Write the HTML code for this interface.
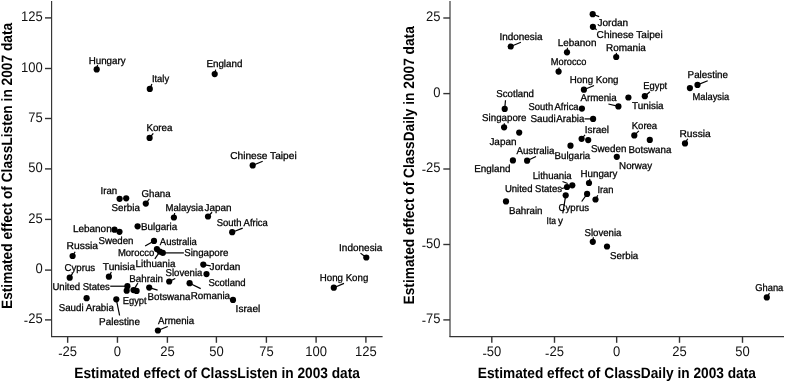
<!DOCTYPE html>
<html><head><meta charset="utf-8"><style>
html,body{margin:0;padding:0;background:#fff;}
svg{display:block;}
text{text-rendering:geometricPrecision;}
.lab text{font-family:"Liberation Sans",Arial,sans-serif;font-size:10px;fill:#000;stroke:#000;stroke-width:0.28px;}
.tk text{font-family:"Liberation Sans",Arial,sans-serif;font-size:14px;fill:#111;}
.ttl text{font-family:"Liberation Sans",Arial,sans-serif;font-size:15px;font-weight:bold;fill:#000;}
</style></head><body>
<svg width="785" height="382" viewBox="0 0 785 382">
<rect width="785" height="382" fill="#fff"/>
<g class="lab">
<line x1="51.6" y1="1" x2="51.6" y2="337" stroke="#333" stroke-width="1.15"/>
<line x1="51" y1="336.6" x2="382.6" y2="336.6" stroke="#333" stroke-width="1.15"/>
<line x1="45" y1="17.9" x2="51.6" y2="17.9" stroke="#333" stroke-width="1.4"/>
<line x1="45" y1="68.5" x2="51.6" y2="68.5" stroke="#333" stroke-width="1.4"/>
<line x1="45" y1="118.5" x2="51.6" y2="118.5" stroke="#333" stroke-width="1.4"/>
<line x1="45" y1="168.9" x2="51.6" y2="168.9" stroke="#333" stroke-width="1.4"/>
<line x1="45" y1="219.4" x2="51.6" y2="219.4" stroke="#333" stroke-width="1.4"/>
<line x1="45" y1="270.1" x2="51.6" y2="270.1" stroke="#333" stroke-width="1.4"/>
<line x1="45" y1="319.9" x2="51.6" y2="319.9" stroke="#333" stroke-width="1.4"/>
<line x1="67.65" y1="336.6" x2="67.65" y2="342.8" stroke="#333" stroke-width="1.4"/>
<line x1="117.45" y1="336.6" x2="117.45" y2="342.8" stroke="#333" stroke-width="1.4"/>
<line x1="167.4" y1="336.6" x2="167.4" y2="342.8" stroke="#333" stroke-width="1.4"/>
<line x1="216.4" y1="336.6" x2="216.4" y2="342.8" stroke="#333" stroke-width="1.4"/>
<line x1="266.4" y1="336.6" x2="266.4" y2="342.8" stroke="#333" stroke-width="1.4"/>
<line x1="316.1" y1="336.6" x2="316.1" y2="342.8" stroke="#333" stroke-width="1.4"/>
<line x1="365.9" y1="336.6" x2="365.9" y2="342.8" stroke="#333" stroke-width="1.4"/>
<line x1="450.0" y1="1" x2="450.0" y2="337" stroke="#333" stroke-width="1.15"/>
<line x1="449.5" y1="336.6" x2="784" y2="336.6" stroke="#333" stroke-width="1.15"/>
<line x1="443.3" y1="18.0" x2="450" y2="18.0" stroke="#333" stroke-width="1.4"/>
<line x1="443.3" y1="93.6" x2="450" y2="93.6" stroke="#333" stroke-width="1.4"/>
<line x1="443.3" y1="169.0" x2="450" y2="169.0" stroke="#333" stroke-width="1.4"/>
<line x1="443.3" y1="244.5" x2="450" y2="244.5" stroke="#333" stroke-width="1.4"/>
<line x1="443.3" y1="319.9" x2="450" y2="319.9" stroke="#333" stroke-width="1.4"/>
<line x1="491.8" y1="336.6" x2="491.8" y2="342.8" stroke="#333" stroke-width="1.4"/>
<line x1="554.5" y1="336.6" x2="554.5" y2="342.8" stroke="#333" stroke-width="1.4"/>
<line x1="616.66" y1="336.6" x2="616.66" y2="342.8" stroke="#333" stroke-width="1.4"/>
<line x1="679.5" y1="336.6" x2="679.5" y2="342.8" stroke="#333" stroke-width="1.4"/>
<line x1="742.5" y1="336.6" x2="742.5" y2="342.8" stroke="#333" stroke-width="1.4"/>
<line x1="96.7" y1="69.4" x2="97.55" y2="64.91" stroke="#000" stroke-width="1.2"/>
<line x1="149.8" y1="88.9" x2="151.92" y2="83.96" stroke="#000" stroke-width="1.2"/>
<line x1="214.7" y1="74.1" x2="215.66" y2="69.52" stroke="#000" stroke-width="1.2"/>
<line x1="149.6" y1="137.9" x2="153.3" y2="133.28" stroke="#000" stroke-width="1.2"/>
<line x1="252.7" y1="165.4" x2="262.7" y2="161.3" stroke="#000" stroke-width="1.2"/>
<line x1="145.8" y1="203.6" x2="149.38" y2="198.76" stroke="#000" stroke-width="1.2"/>
<line x1="173.9" y1="217.5" x2="174.63" y2="213.01" stroke="#000" stroke-width="1.2"/>
<line x1="208.0" y1="216.5" x2="212.05" y2="212.22" stroke="#000" stroke-width="1.2"/>
<line x1="232.2" y1="232.2" x2="242.7" y2="228.1" stroke="#000" stroke-width="1.2"/>
<line x1="366.3" y1="257.5" x2="360.46" y2="253.12" stroke="#000" stroke-width="1.2"/>
<line x1="333.8" y1="287.7" x2="344.0" y2="283.4" stroke="#000" stroke-width="1.2"/>
<line x1="72.6" y1="256.0" x2="75.11" y2="251.81" stroke="#000" stroke-width="1.2"/>
<line x1="154.0" y1="240.9" x2="145.1" y2="246.0" stroke="#000" stroke-width="1.2"/>
<line x1="162.8" y1="252.9" x2="183.9" y2="252.9" stroke="#000" stroke-width="1.2"/>
<line x1="159.8" y1="251.6" x2="154.85" y2="258.86" stroke="#000" stroke-width="1.2"/>
<line x1="69.7" y1="277.7" x2="72.74" y2="273.13" stroke="#000" stroke-width="1.2"/>
<line x1="108.9" y1="276.7" x2="111.37" y2="271.99" stroke="#000" stroke-width="1.2"/>
<line x1="127.4" y1="286.2" x2="110.2" y2="286.2" stroke="#000" stroke-width="1.2"/>
<line x1="133.5" y1="290.1" x2="137.82" y2="283.12" stroke="#000" stroke-width="1.2"/>
<line x1="149.2" y1="287.6" x2="157.6" y2="290.1" stroke="#000" stroke-width="1.2"/>
<line x1="116.3" y1="299.3" x2="119.6" y2="315.5" stroke="#000" stroke-width="1.2"/>
<line x1="169.2" y1="281.5" x2="175.21" y2="278.44" stroke="#000" stroke-width="1.2"/>
<line x1="189.6" y1="283.2" x2="200.7" y2="288.6" stroke="#000" stroke-width="1.2"/>
<line x1="203.3" y1="264.6" x2="210.69" y2="265.94" stroke="#000" stroke-width="1.2"/>
<line x1="157.9" y1="330.5" x2="167.7" y2="326.5" stroke="#000" stroke-width="1.2"/>
<circle cx="96.7" cy="69.4" r="3.1"/>
<circle cx="149.8" cy="88.9" r="3.1"/>
<circle cx="214.7" cy="74.1" r="3.1"/>
<circle cx="149.6" cy="137.9" r="3.1"/>
<circle cx="252.7" cy="165.4" r="3.1"/>
<circle cx="119.6" cy="198.8" r="3.1"/>
<circle cx="126.2" cy="198.3" r="3.1"/>
<circle cx="145.8" cy="203.6" r="3.1"/>
<circle cx="173.9" cy="217.5" r="3.1"/>
<circle cx="208.0" cy="216.5" r="3.1"/>
<circle cx="232.2" cy="232.2" r="3.1"/>
<circle cx="366.3" cy="257.5" r="3.1"/>
<circle cx="333.8" cy="287.7" r="3.1"/>
<circle cx="114.5" cy="229.7" r="3.1"/>
<circle cx="119.5" cy="231.8" r="3.1"/>
<circle cx="137.6" cy="226.3" r="3.1"/>
<circle cx="72.6" cy="256.0" r="3.1"/>
<circle cx="154.0" cy="240.9" r="3.1"/>
<circle cx="156.9" cy="249.1" r="3.1"/>
<circle cx="162.8" cy="252.9" r="3.1"/>
<circle cx="159.8" cy="251.6" r="3.1"/>
<circle cx="69.7" cy="277.7" r="3.1"/>
<circle cx="108.9" cy="276.7" r="3.1"/>
<circle cx="127.4" cy="286.2" r="3.1"/>
<circle cx="126.7" cy="290.7" r="3.1"/>
<circle cx="133.5" cy="290.1" r="3.1"/>
<circle cx="136.6" cy="290.9" r="3.1"/>
<circle cx="149.2" cy="287.6" r="3.1"/>
<circle cx="86.6" cy="298.2" r="3.1"/>
<circle cx="116.3" cy="299.3" r="3.1"/>
<circle cx="169.2" cy="281.5" r="3.1"/>
<circle cx="189.6" cy="283.2" r="3.1"/>
<circle cx="203.3" cy="264.6" r="3.1"/>
<circle cx="206.5" cy="274.1" r="3.1"/>
<circle cx="233.0" cy="299.9" r="3.1"/>
<circle cx="157.9" cy="330.5" r="3.1"/>
<text x="88.7" y="63.5" textLength="36.9" lengthAdjust="spacingAndGlyphs">Hungary</text>
<text x="151.9" y="82.0" textLength="17.2" lengthAdjust="spacingAndGlyphs">Italy</text>
<text x="206.4" y="67.4" textLength="36.0" lengthAdjust="spacingAndGlyphs">England</text>
<text x="146.4" y="131.1" textLength="26.0" lengthAdjust="spacingAndGlyphs">Korea</text>
<text x="230.2" y="158.7" textLength="66.5" lengthAdjust="spacingAndGlyphs">Chinese Taipei</text>
<text x="100.6" y="194.1" textLength="16.6" lengthAdjust="spacingAndGlyphs">Iran</text>
<text x="111.6" y="210.6" textLength="28.3" lengthAdjust="spacingAndGlyphs">Serbia</text>
<text x="141.6" y="196.8" textLength="29.0" lengthAdjust="spacingAndGlyphs">Ghana</text>
<text x="165.6" y="210.7" textLength="37.7" lengthAdjust="spacingAndGlyphs">Malaysia</text>
<text x="204.5" y="210.7" textLength="27.1" lengthAdjust="spacingAndGlyphs">Japan</text>
<text x="216.7" y="225.7" textLength="51.1" lengthAdjust="spacingAndGlyphs">South Africa</text>
<text x="339.1" y="251.0" textLength="43.3" lengthAdjust="spacingAndGlyphs">Indonesia</text>
<text x="319.8" y="281.4" textLength="48.5" lengthAdjust="spacingAndGlyphs">Hong Kong</text>
<text x="72.9" y="231.5" textLength="38.8" lengthAdjust="spacingAndGlyphs">Lebanon</text>
<text x="98.5" y="243.8" textLength="35.0" lengthAdjust="spacingAndGlyphs">Sweden</text>
<text x="141.0" y="229.9" textLength="36.2" lengthAdjust="spacingAndGlyphs">Bulgaria</text>
<text x="66.6" y="249.3" textLength="31.5" lengthAdjust="spacingAndGlyphs">Russia</text>
<text x="159.8" y="244.6" textLength="37.0" lengthAdjust="spacingAndGlyphs">Australia</text>
<text x="117.9" y="255.6" textLength="36.5" lengthAdjust="spacingAndGlyphs">Morocco</text>
<text x="184.2" y="256.3" textLength="44.2" lengthAdjust="spacingAndGlyphs">Singapore</text>
<text x="135.6" y="267.3" textLength="39.8" lengthAdjust="spacingAndGlyphs">Lithuania</text>
<text x="64.4" y="271.2" textLength="30.8" lengthAdjust="spacingAndGlyphs">Cyprus</text>
<text x="102.8" y="269.8" textLength="32.5" lengthAdjust="spacingAndGlyphs">Tunisia</text>
<text x="52.4" y="289.7" textLength="57.5" lengthAdjust="spacingAndGlyphs">United States</text>
<text x="122.7" y="303.5" textLength="24.0" lengthAdjust="spacingAndGlyphs">Egypt</text>
<text x="129.3" y="281.5" textLength="33.7" lengthAdjust="spacingAndGlyphs">Bahrain</text>
<text x="147.5" y="299.6" textLength="42.9" lengthAdjust="spacingAndGlyphs">Botswana</text>
<text x="58.7" y="310.6" textLength="55.1" lengthAdjust="spacingAndGlyphs">Saudi Arabia</text>
<text x="99.1" y="324.5" textLength="40.8" lengthAdjust="spacingAndGlyphs">Palestine</text>
<text x="165.6" y="276.0" textLength="36.8" lengthAdjust="spacingAndGlyphs">Slovenia</text>
<text x="190.7" y="298.5" textLength="39.4" lengthAdjust="spacingAndGlyphs">Romania</text>
<text x="209.6" y="270.0" textLength="30.8" lengthAdjust="spacingAndGlyphs">Jordan</text>
<text x="208.4" y="285.7" textLength="37.2" lengthAdjust="spacingAndGlyphs">Scotland</text>
<text x="235.6" y="311.6" textLength="24.7" lengthAdjust="spacingAndGlyphs">Israel</text>
<text x="158.0" y="323.6" textLength="36.2" lengthAdjust="spacingAndGlyphs">Armenia</text>
<line x1="592.7" y1="14.2" x2="599.15" y2="16.58" stroke="#000" stroke-width="1.2"/>
<line x1="592.9" y1="26.8" x2="596.62" y2="29.8" stroke="#000" stroke-width="1.2"/>
<line x1="510.7" y1="46.5" x2="520.9" y2="42.3" stroke="#000" stroke-width="1.2"/>
<line x1="567.0" y1="52.3" x2="567.49" y2="47.8" stroke="#000" stroke-width="1.2"/>
<line x1="616.2" y1="57.0" x2="616.45" y2="52.9" stroke="#000" stroke-width="1.2"/>
<line x1="558.6" y1="71.6" x2="559.1" y2="67.51" stroke="#000" stroke-width="1.2"/>
<line x1="583.9" y1="89.7" x2="594.0" y2="85.5" stroke="#000" stroke-width="1.2"/>
<line x1="618.4" y1="106.4" x2="608.4" y2="104.0" stroke="#000" stroke-width="1.2"/>
<line x1="644.8" y1="96.2" x2="649.9" y2="91.78" stroke="#000" stroke-width="1.2"/>
<line x1="697.5" y1="84.9" x2="707.7" y2="80.7" stroke="#000" stroke-width="1.2"/>
<line x1="504.7" y1="108.9" x2="505.5" y2="100.2" stroke="#000" stroke-width="1.2"/>
<line x1="593.1" y1="118.9" x2="584.6" y2="118.9" stroke="#000" stroke-width="1.2"/>
<line x1="504.1" y1="127.3" x2="504.35" y2="123.3" stroke="#000" stroke-width="1.2"/>
<line x1="581.6" y1="138.8" x2="585.03" y2="134.9" stroke="#000" stroke-width="1.2"/>
<line x1="634.3" y1="135.4" x2="638.87" y2="130.94" stroke="#000" stroke-width="1.2"/>
<line x1="685.0" y1="143.4" x2="687.71" y2="138.81" stroke="#000" stroke-width="1.2"/>
<line x1="527.1" y1="160.7" x2="536.0" y2="156.5" stroke="#000" stroke-width="1.2"/>
<line x1="567.0" y1="187.0" x2="561.23" y2="188.73" stroke="#000" stroke-width="1.2"/>
<line x1="589.0" y1="183.0" x2="589.87" y2="178.92" stroke="#000" stroke-width="1.2"/>
<line x1="595.5" y1="199.5" x2="597.78" y2="195.3" stroke="#000" stroke-width="1.2"/>
<line x1="587.1" y1="193.9" x2="581.7" y2="201.5" stroke="#000" stroke-width="1.2"/>
<line x1="565.7" y1="195.3" x2="562.8" y2="213.3" stroke="#000" stroke-width="1.2"/>
<line x1="592.8" y1="241.8" x2="593.4" y2="237.21" stroke="#000" stroke-width="1.2"/>
<line x1="766.8" y1="297.4" x2="769.53" y2="293.13" stroke="#000" stroke-width="1.2"/>
<circle cx="592.7" cy="14.2" r="3.1"/>
<circle cx="592.9" cy="26.8" r="3.1"/>
<circle cx="510.7" cy="46.5" r="3.1"/>
<circle cx="567.0" cy="52.3" r="3.1"/>
<circle cx="616.2" cy="57.0" r="3.1"/>
<circle cx="558.6" cy="71.6" r="3.1"/>
<circle cx="583.9" cy="89.7" r="3.1"/>
<circle cx="618.4" cy="106.4" r="3.1"/>
<circle cx="628.4" cy="97.5" r="3.1"/>
<circle cx="644.8" cy="96.2" r="3.1"/>
<circle cx="697.5" cy="84.9" r="3.1"/>
<circle cx="689.9" cy="88.1" r="3.1"/>
<circle cx="504.7" cy="108.9" r="3.1"/>
<circle cx="581.9" cy="108.6" r="3.1"/>
<circle cx="593.1" cy="118.9" r="3.1"/>
<circle cx="504.1" cy="127.3" r="3.1"/>
<circle cx="581.6" cy="138.8" r="3.1"/>
<circle cx="588.2" cy="140.1" r="3.1"/>
<circle cx="519.2" cy="132.6" r="3.1"/>
<circle cx="634.3" cy="135.4" r="3.1"/>
<circle cx="649.8" cy="139.9" r="3.1"/>
<circle cx="685.0" cy="143.4" r="3.1"/>
<circle cx="527.1" cy="160.7" r="3.1"/>
<circle cx="512.9" cy="160.4" r="3.1"/>
<circle cx="570.5" cy="145.7" r="3.1"/>
<circle cx="616.8" cy="156.8" r="3.1"/>
<circle cx="572.3" cy="185.3" r="3.1"/>
<circle cx="567.0" cy="187.0" r="3.1"/>
<circle cx="589.0" cy="183.0" r="3.1"/>
<circle cx="595.5" cy="199.5" r="3.1"/>
<circle cx="587.1" cy="193.9" r="3.1"/>
<circle cx="565.7" cy="195.3" r="3.1"/>
<circle cx="506.0" cy="201.4" r="3.1"/>
<circle cx="592.8" cy="241.8" r="3.1"/>
<circle cx="607.0" cy="246.5" r="3.1"/>
<circle cx="766.8" cy="297.4" r="3.1"/>
<text x="597.5" y="25.9" textLength="30.6" lengthAdjust="spacingAndGlyphs">Jordan</text>
<text x="596.6" y="37.8" textLength="66.1" lengthAdjust="spacingAndGlyphs">Chinese Taipei</text>
<text x="499.4" y="39.7" textLength="43.1" lengthAdjust="spacingAndGlyphs">Indonesia</text>
<text x="557.8" y="46.0" textLength="38.6" lengthAdjust="spacingAndGlyphs">Lebanon</text>
<text x="606.0" y="50.9" textLength="39.9" lengthAdjust="spacingAndGlyphs">Romania</text>
<text x="550.8" y="64.8" textLength="35.5" lengthAdjust="spacingAndGlyphs">Morocco</text>
<text x="569.8" y="82.8" textLength="48.7" lengthAdjust="spacingAndGlyphs">Hong Kong</text>
<text x="580.4" y="101.4" textLength="36.3" lengthAdjust="spacingAndGlyphs">Armenia</text>
<text x="632.1" y="109.0" textLength="31.5" lengthAdjust="spacingAndGlyphs">Tunisia</text>
<text x="643.3" y="89.1" textLength="23.9" lengthAdjust="spacingAndGlyphs">Egypt</text>
<text x="687.6" y="78.1" textLength="40.4" lengthAdjust="spacingAndGlyphs">Palestine</text>
<text x="692.4" y="99.9" textLength="36.9" lengthAdjust="spacingAndGlyphs">Malaysia</text>
<text x="496.3" y="97.0" textLength="37.6" lengthAdjust="spacingAndGlyphs">Scotland</text>
<text x="482.1" y="120.8" textLength="44.4" lengthAdjust="spacingAndGlyphs">Singapore</text>
<text x="584.7" y="132.6" textLength="24.4" lengthAdjust="spacingAndGlyphs">Israel</text>
<text x="591.0" y="151.8" textLength="35.4" lengthAdjust="spacingAndGlyphs">Sweden</text>
<text x="489.4" y="144.6" textLength="27.1" lengthAdjust="spacingAndGlyphs">Japan</text>
<text x="631.7" y="128.8" textLength="25.5" lengthAdjust="spacingAndGlyphs">Korea</text>
<text x="628.5" y="153.1" textLength="42.9" lengthAdjust="spacingAndGlyphs">Botswana</text>
<text x="679.5" y="136.7" textLength="31.2" lengthAdjust="spacingAndGlyphs">Russia</text>
<text x="516.4" y="153.7" textLength="38.0" lengthAdjust="spacingAndGlyphs">Australia</text>
<text x="474.2" y="171.9" textLength="36.2" lengthAdjust="spacingAndGlyphs">England</text>
<text x="554.6" y="158.7" textLength="35.6" lengthAdjust="spacingAndGlyphs">Bulgaria</text>
<text x="619.1" y="169.2" textLength="33.1" lengthAdjust="spacingAndGlyphs">Norway</text>
<text x="532.7" y="178.6" textLength="38.9" lengthAdjust="spacingAndGlyphs">Lithuania</text>
<text x="504.9" y="191.9" textLength="57.2" lengthAdjust="spacingAndGlyphs">United States</text>
<text x="580.5" y="177.3" textLength="36.9" lengthAdjust="spacingAndGlyphs">Hungary</text>
<text x="597.4" y="192.7" textLength="16.1" lengthAdjust="spacingAndGlyphs">Iran</text>
<text x="558.6" y="210.7" textLength="30.5" lengthAdjust="spacingAndGlyphs">Cyprus</text>
<text x="508.9" y="213.8" textLength="33.6" lengthAdjust="spacingAndGlyphs">Bahrain</text>
<text x="584.5" y="235.5" textLength="36.9" lengthAdjust="spacingAndGlyphs">Slovenia</text>
<text x="610.1" y="259.0" textLength="28.1" lengthAdjust="spacingAndGlyphs">Serbia</text>
<text x="755.3" y="290.8" textLength="28.0" lengthAdjust="spacingAndGlyphs">Ghana</text>
<line x1="562.5" y1="181.5" x2="567.7" y2="183.6" stroke="#000" stroke-width="1.1"/>
<text x="528.6" y="109.6" textLength="24.6" lengthAdjust="spacingAndGlyphs">South</text>
<text x="554.5" y="109.6" textLength="24.1" lengthAdjust="spacingAndGlyphs">Africa</text>
<text x="530.4" y="121.9" textLength="25.4" lengthAdjust="spacingAndGlyphs">Saudi</text>
<text x="556.3" y="121.9" textLength="28.1" lengthAdjust="spacingAndGlyphs">Arabia</text>
<text x="546.6" y="223.6" textLength="9.4" lengthAdjust="spacingAndGlyphs">Ita</text>
<text x="557.9" y="223.6">y</text>
</g>
<g class="tk">
<text transform="translate(42.7,21.2) scale(0.93,1)" text-anchor="end">125</text>
<text transform="translate(42.7,71.8) scale(0.93,1)" text-anchor="end">100</text>
<text transform="translate(42.7,121.8) scale(0.93,1)" text-anchor="end">75</text>
<text transform="translate(42.7,172.2) scale(0.93,1)" text-anchor="end">50</text>
<text transform="translate(42.7,222.7) scale(0.93,1)" text-anchor="end">25</text>
<text transform="translate(42.7,273.4) scale(0.93,1)" text-anchor="end">0</text>
<text transform="translate(42.7,323.2) scale(0.93,1)" text-anchor="end"><tspan dy="1.8">-</tspan><tspan dy="-1.8">25</tspan></text>
<text transform="translate(67.65,355.9) scale(0.93,1)" text-anchor="middle"><tspan dy="1.8">-</tspan><tspan dy="-1.8">25</tspan></text>
<text transform="translate(117.45,355.9) scale(0.93,1)" text-anchor="middle">0</text>
<text transform="translate(167.40,355.9) scale(0.93,1)" text-anchor="middle">25</text>
<text transform="translate(216.40,355.9) scale(0.93,1)" text-anchor="middle">50</text>
<text transform="translate(266.40,355.9) scale(0.93,1)" text-anchor="middle">75</text>
<text transform="translate(316.10,355.9) scale(0.93,1)" text-anchor="middle">100</text>
<text transform="translate(365.90,355.9) scale(0.93,1)" text-anchor="middle">125</text>
<text transform="translate(440.6,21.3) scale(0.93,1)" text-anchor="end">25</text>
<text transform="translate(440.6,96.9) scale(0.93,1)" text-anchor="end">0</text>
<text transform="translate(440.6,172.3) scale(0.93,1)" text-anchor="end"><tspan dy="1.8">-</tspan><tspan dy="-1.8">25</tspan></text>
<text transform="translate(440.6,247.8) scale(0.93,1)" text-anchor="end"><tspan dy="1.8">-</tspan><tspan dy="-1.8">50</tspan></text>
<text transform="translate(440.6,323.2) scale(0.93,1)" text-anchor="end"><tspan dy="1.8">-</tspan><tspan dy="-1.8">75</tspan></text>
<text transform="translate(491.80,355.9) scale(0.93,1)" text-anchor="middle"><tspan dy="1.8">-</tspan><tspan dy="-1.8">50</tspan></text>
<text transform="translate(554.50,355.9) scale(0.93,1)" text-anchor="middle"><tspan dy="1.8">-</tspan><tspan dy="-1.8">25</tspan></text>
<text transform="translate(616.66,355.9) scale(0.93,1)" text-anchor="middle">0</text>
<text transform="translate(679.50,355.9) scale(0.93,1)" text-anchor="middle">25</text>
<text transform="translate(742.50,355.9) scale(0.93,1)" text-anchor="middle">50</text>
</g>
<g class="ttl">
<text x="74.3" y="377.6" textLength="285.6" lengthAdjust="spacingAndGlyphs">Estimated effect of ClassListen in 2003 data</text>
<text x="477.8" y="377.6" textLength="278.1" lengthAdjust="spacingAndGlyphs">Estimated effect of ClassDaily in 2003 data</text>
<text transform="translate(11.7,309.0) rotate(-90)" textLength="286.2" lengthAdjust="spacingAndGlyphs">Estimated effect of ClassListen in 2007 data</text>
<text transform="translate(414,304.4) rotate(-90)" textLength="278.2" lengthAdjust="spacingAndGlyphs">Estimated effect of ClassDaily in 2007 data</text>
</g>
</svg>
</body></html>
